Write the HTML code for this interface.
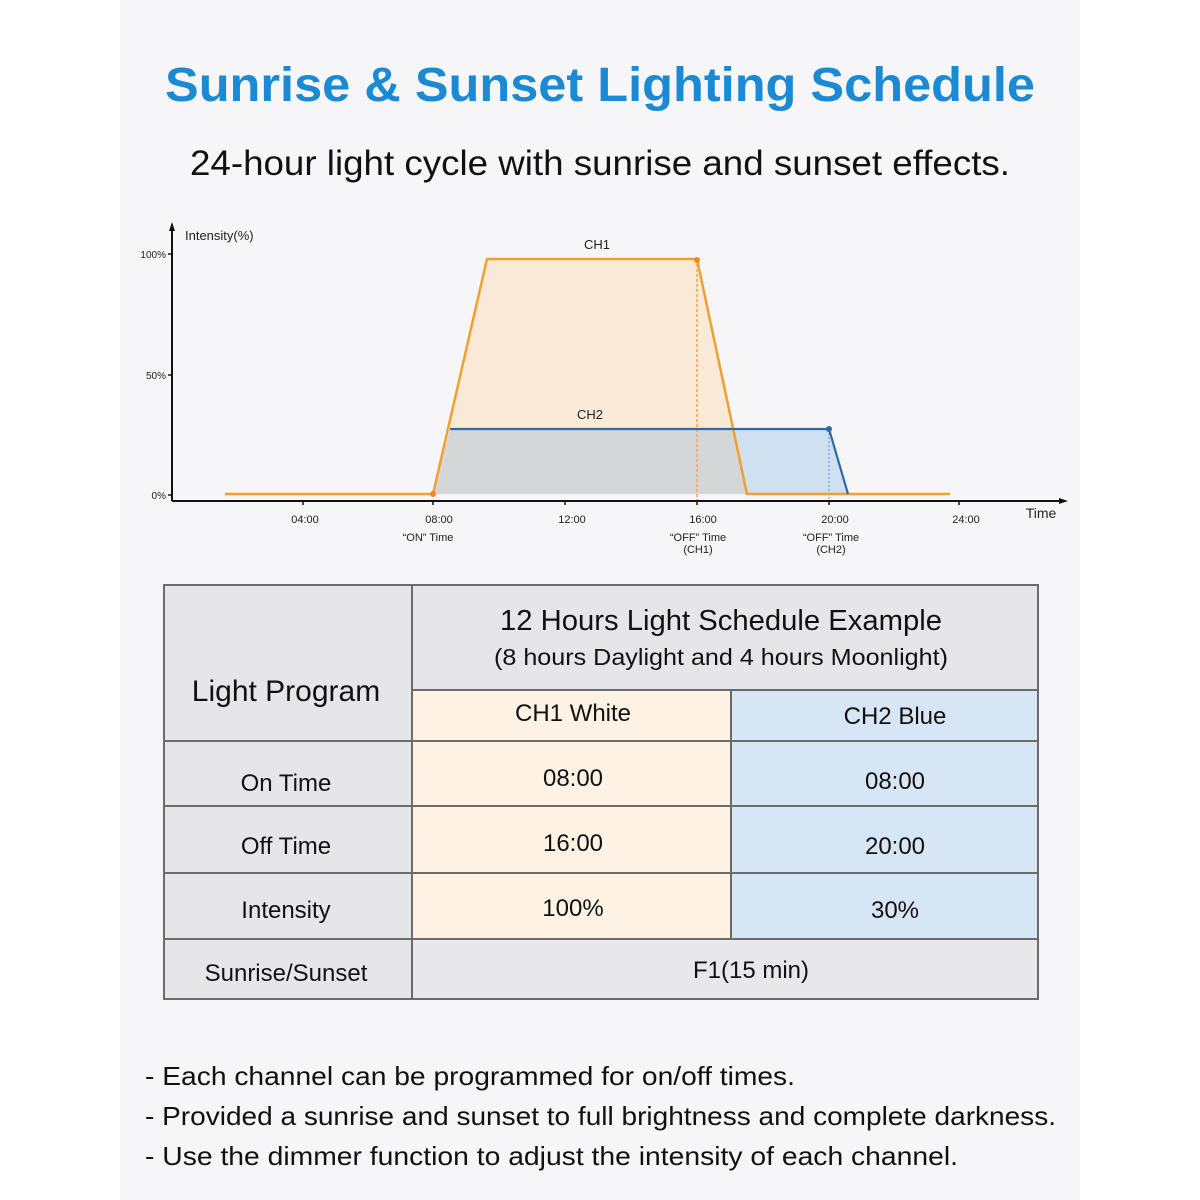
<!DOCTYPE html>
<html><head><meta charset="utf-8"><style>
html,body{margin:0;padding:0;background:#fff;}
svg{display:block;}
text{font-family:"Liberation Sans","DejaVu Sans",sans-serif;}
</style></head><body>
<svg width="1200" height="1200" viewBox="0 0 1200 1200" xmlns="http://www.w3.org/2000/svg">
<rect x="0" y="0" width="1200" height="1200" fill="#ffffff"/>
<rect x="120" y="0" width="960" height="1200" fill="#f6f5f8"/>

<text x="600" y="101" text-anchor="middle" font-size="48" font-weight="bold" fill="#1a8ad4" textLength="870" lengthAdjust="spacingAndGlyphs">Sunrise &amp; Sunset Lighting Schedule</text>
<text x="600" y="175" text-anchor="middle" font-size="35" fill="#111" textLength="820" lengthAdjust="spacingAndGlyphs">24-hour light cycle with sunrise and sunset effects.</text>

<!-- chart fills -->
<polygon points="433,494 487,259 697,259 747,494" fill="#fbe9d7"/>
<polygon points="450,429 829,429 848,494 450,494" fill="#cfe0f0"/>
<polygon points="433,494 450,429 733,429 747,494" fill="#d4d6d8"/>
<line x1="697" y1="259" x2="697" y2="501" stroke="#f0a94a" stroke-width="1.5" stroke-dasharray="3,2"/>
<line x1="829" y1="429" x2="829" y2="501" stroke="#6fa2cf" stroke-width="1.2" stroke-dasharray="2,2"/>
<polyline points="225,494 433,494 487,259 697,259 747,494 950,494" fill="none" stroke="#f0a02e" stroke-width="2.5"/>
<polyline points="450,429 829,429 848,494" fill="none" stroke="#2a6aa8" stroke-width="2.2"/>
<circle cx="433" cy="494" r="3" fill="#f08a20"/>
<circle cx="697" cy="260" r="3" fill="#f08a20"/>
<circle cx="829" cy="429" r="3" fill="#2a6aa8"/>
<text x="597" y="249" text-anchor="middle" font-size="13" fill="#222">CH1</text>
<text x="590" y="419" text-anchor="middle" font-size="13" fill="#222">CH2</text>

<!-- axes -->
<line x1="172" y1="228" x2="172" y2="501" stroke="#111" stroke-width="2"/>
<polygon points="172,222 169,231 175,231" fill="#111"/>
<line x1="172" y1="501" x2="1062" y2="501" stroke="#111" stroke-width="2"/>
<polygon points="1068,501 1059,498 1059,504" fill="#111"/>
<g stroke="#111" stroke-width="1.5">
<line x1="168" y1="254" x2="172" y2="254"/><line x1="168" y1="375" x2="172" y2="375"/><line x1="168" y1="495" x2="172" y2="495"/>
<line x1="303" y1="501" x2="303" y2="505"/><line x1="433" y1="501" x2="433" y2="505"/><line x1="565" y1="501" x2="565" y2="505"/>
<line x1="697" y1="501" x2="697" y2="505"/><line x1="829" y1="501" x2="829" y2="505"/><line x1="959" y1="501" x2="959" y2="505"/>
</g>
<g font-size="10" fill="#222" text-anchor="end">
<text x="166" y="258">100%</text><text x="166" y="379">50%</text><text x="166" y="499">0%</text>
</g>
<text x="185" y="240" font-size="13" fill="#222">Intensity(%)</text>
<text x="1041" y="518" text-anchor="middle" font-size="14" fill="#222">Time</text>
<g font-size="11" fill="#222" text-anchor="middle">
<text x="305" y="523">04:00</text><text x="439" y="523">08:00</text><text x="572" y="523">12:00</text>
<text x="703" y="523">16:00</text><text x="835" y="523">20:00</text><text x="966" y="523">24:00</text>
<text x="428" y="541">“ON” Time</text>
<text x="698" y="541">“OFF” Time</text><text x="698" y="553">(CH1)</text>
<text x="831" y="541">“OFF” Time</text><text x="831" y="553">(CH2)</text>
</g>

<!-- table -->
<rect x="164" y="585" width="248" height="414" fill="#e6e6e8"/>
<rect x="412" y="585" width="626" height="105" fill="#e6e6e8"/>
<rect x="412" y="690" width="319" height="249" fill="#fdf2e3"/>
<rect x="731" y="690" width="307" height="249" fill="#d6e6f5"/>
<rect x="412" y="939" width="626" height="60" fill="#e8e7ea"/>
<g stroke="#6b6b6b" stroke-width="2" fill="none">
<rect x="164" y="585" width="874" height="414"/>
<line x1="412" y1="585" x2="412" y2="999"/>
<line x1="731" y1="690" x2="731" y2="939"/>
<line x1="412" y1="690" x2="1038" y2="690"/>
<line x1="164" y1="741" x2="1038" y2="741"/>
<line x1="164" y1="806" x2="1038" y2="806"/>
<line x1="164" y1="873" x2="1038" y2="873"/>
<line x1="164" y1="939" x2="1038" y2="939"/>
</g>
<g fill="#111" text-anchor="middle">
<text x="286" y="701" font-size="30">Light Program</text>
<text x="721" y="630" font-size="29" textLength="442" lengthAdjust="spacingAndGlyphs">12 Hours Light Schedule Example</text>
<text x="721" y="665" font-size="23" textLength="454" lengthAdjust="spacingAndGlyphs">(8 hours Daylight and 4 hours Moonlight)</text>
<text x="573" y="721" font-size="24">CH1 White</text>
<text x="895" y="724" font-size="24">CH2 Blue</text>
<text x="286" y="791" font-size="24">On Time</text>
<text x="573" y="786" font-size="24">08:00</text>
<text x="895" y="789" font-size="24">08:00</text>
<text x="286" y="854" font-size="24">Off Time</text>
<text x="573" y="851" font-size="24">16:00</text>
<text x="895" y="854" font-size="24">20:00</text>
<text x="286" y="918" font-size="24">Intensity</text>
<text x="573" y="916" font-size="24">100%</text>
<text x="895" y="918" font-size="24">30%</text>
<text x="286" y="981" font-size="24">Sunrise/Sunset</text>
<text x="751" y="978" font-size="24">F1(15 min)</text>
</g>

<g fill="#111" font-size="26">
<text x="145" y="1085" textLength="650" lengthAdjust="spacingAndGlyphs">- Each channel can be programmed for on/off times.</text>
<text x="145" y="1125" textLength="911" lengthAdjust="spacingAndGlyphs">- Provided a sunrise and sunset to full brightness and complete darkness.</text>
<text x="145" y="1165" textLength="813" lengthAdjust="spacingAndGlyphs">- Use the dimmer function to adjust the intensity of each channel.</text>
</g>
</svg>
</body></html>
